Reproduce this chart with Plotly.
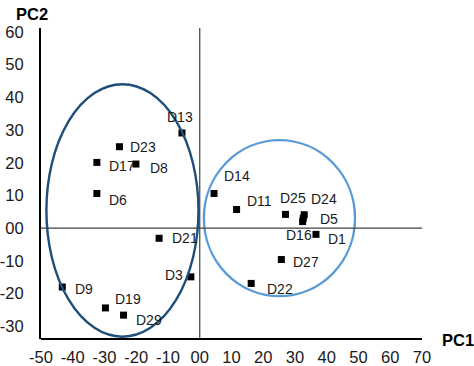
import plotly.graph_objects as go

# ---- data ----
names = ["D13", "D23", "D17", "D8", "D6", "D21", "D3", "D9", "D19", "D29",
         "D14", "D11", "D25", "D24", "D5", "D16", "D1", "D27", "D22"]
pc1 = [-5.6, -25.3, -32.4, -20.1, -32.4, -12.8, -2.8, -43.3, -29.7, -24.0,
       4.5, 11.6, 27.0, 32.9, 32.6, 32.4, 36.6, 25.7, 16.2]
pc2 = [29.1, 24.9, 20.1, 19.6, 10.6, -3.1, -14.9, -18.0, -24.4, -26.6,
       10.6, 5.7, 4.2, 4.1, 3.0, 2.0, -1.9, -9.6, -16.9]

x_ticks = [-50, -40, -30, -20, -10, 0, 10, 20, 30, 40, 50, 60, 70]
x_ticktext = ["-50", "-40", "-30", "-20", "-10", "00", "10", "20", "30", "40", "50", "60", "70"]
y_ticks = [-30, -20, -10, 0, 10, 20, 30, 40, 50, 60]
y_ticktext = ["-30", "-20", "-10", "00", "10", "20", "30", "40", "50", "60"]

# cluster ellipses (bounding boxes in data units)
left_ellipse = [-48.3, -0.4, -33.2, 44.0]
right_ellipse = [1.3, 48.9, -20.8, 26.9]

# label placement: (xanchor, dx px, dy px downward)
label_pos = {
    "D13": ("center", -2, -16), "D23": ("left", 9, 0), "D17": ("left", 10, 4),
    "D8": ("left", 12, 4), "D6": ("left", 10, 7), "D21": ("left", 11, 0),
    "D3": ("right", -6, -2), "D9": ("left", 11, 2), "D19": ("left", 8, -9),
    "D29": ("left", 10, 5), "D14": ("left", 8, -17), "D11": ("left", 8, -9),
    "D25": ("center", 8, -16), "D24": ("left", 5, -16), "D5": ("left", 15, 1),
    "D16": ("center", -4, 13), "D1": ("left", 10, 5), "D27": ("left", 10, 2),
    "D22": ("left", 14, 6),
}

FONT = "Arial, Liberation Sans, sans-serif"
TXT = "#1a1a1a"

fig = go.Figure()
fig.add_trace(go.Scatter(
    x=pc1, y=pc2, mode="markers",
    marker=dict(symbol="square", size=7, color="black"),
    hoverinfo="text", text=names, showlegend=False,
))

shapes = [
    dict(type="circle", xref="x", yref="y",
         x0=left_ellipse[0], x1=left_ellipse[1], y0=left_ellipse[2], y1=left_ellipse[3],
         line=dict(color="#1F4E79", width=2.4)),
    dict(type="circle", xref="x", yref="y",
         x0=right_ellipse[0], x1=right_ellipse[1], y0=right_ellipse[2], y1=right_ellipse[3],
         line=dict(color="#5B9BD5", width=2.4)),
    # zero lines
    dict(type="line", xref="paper", yref="y", x0=0, x1=1, y0=0, y1=0,
         line=dict(color="#404040", width=1.2)),
    dict(type="line", xref="x", yref="paper", x0=0, x1=0, y0=0, y1=1,
         line=dict(color="#404040", width=1.2)),
    # bottom axis
    dict(type="line", xref="paper", yref="paper", x0=0, x1=1, y0=0, y1=0,
         line=dict(color="black", width=2.2)),
]

annotations = []
for n, x, y in zip(names, pc1, pc2):
    anc, dx, dy = label_pos[n]
    annotations.append(dict(
        x=x, y=y, xref="x", yref="y", text=n, showarrow=False,
        xanchor=anc, yanchor="middle", xshift=dx, yshift=-dy,
        font=dict(family=FONT, size=14, color=TXT),
    ))
annotations.append(dict(x=0, y=1, xref="paper", yref="paper", text="<b>PC2</b>",
                        showarrow=False, xanchor="center", yanchor="middle",
                        xshift=-9.5, yshift=14,
                        font=dict(family=FONT, size=16.5, color="black")))
annotations.append(dict(x=1, y=0, xref="paper", yref="paper", text="<b>PC1</b>",
                        showarrow=False, xanchor="center", yanchor="middle",
                        xshift=35.5, yshift=-1,
                        font=dict(family=FONT, size=16.5, color="black")))

fig.update_layout(
    width=474, height=366,
    margin=dict(l=41, r=52, t=28, b=27),
    paper_bgcolor="white", plot_bgcolor="white",
    shapes=shapes, annotations=annotations,
    xaxis=dict(range=[-50, 70], tickvals=x_ticks, ticktext=x_ticktext,
               showgrid=False, zeroline=False, showline=False, ticks="",
               ticklabelstandoff=6, automargin=False,
               tickfont=dict(family=FONT, size=16.5, color=TXT)),
    yaxis=dict(range=[-33.9, 61.2], tickvals=y_ticks, ticktext=y_ticktext,
               showgrid=False, zeroline=False, showline=True, linecolor="black",
               linewidth=2.2, ticks="", ticklabelstandoff=12, automargin=False,
               tickfont=dict(family=FONT, size=16.5, color=TXT)),
)

fig.write_html("out.html", config={"displayModeBar": False},
               post_script="document.body.style.margin='0';document.body.style.overflow='hidden';")
